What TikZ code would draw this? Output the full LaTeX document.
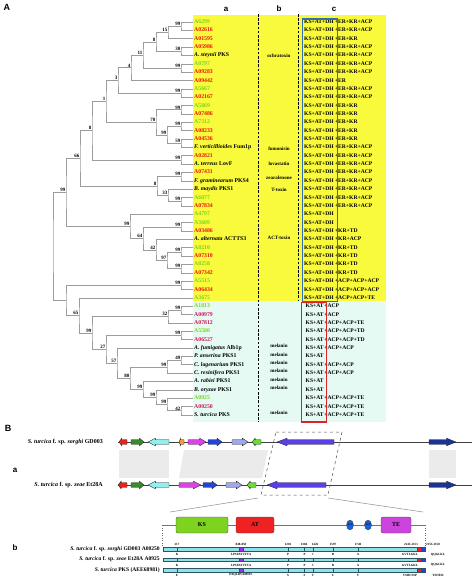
\documentclass[tikz,border=0pt]{standalone}
\usepackage{fontspec}
\setmainfont{Liberation Serif}
\setsansfont{Liberation Sans}
\usetikzlibrary{calc,shapes.geometric,positioning}

\definecolor{lgreen}{HTML}{78D41C}
\definecolor{lred}{HTML}{E8140C}
\definecolor{lcrim}{HTML}{D4145A}
\definecolor{bgyellow}{HTML}{FAFA3C}
\definecolor{bgmint}{HTML}{E4FAF3}
\definecolor{boxblue}{HTML}{2F6FB5}
\definecolor{boxred}{HTML}{D8232A}
\definecolor{treegray}{HTML}{9C9C9C}
\definecolor{gred}{HTML}{E8231E}
\definecolor{ggreen}{HTML}{348C2A}
\definecolor{gcyan}{HTML}{90F0F0}
\definecolor{gorange}{HTML}{F0A030}
\definecolor{gmag}{HTML}{E040E8}
\definecolor{gblue}{HTML}{2244DD}
\definecolor{gperi}{HTML}{A0A8EC}
\definecolor{glime}{HTML}{66DD33}
\definecolor{gpurple}{HTML}{5B3FE6}
\definecolor{gnavy}{HTML}{1A3399}
\definecolor{ksgreen}{HTML}{7ED321}
\definecolor{atred}{HTML}{EE2222}
\definecolor{temag}{HTML}{CC44DD}
\definecolor{acpblue}{HTML}{1560E0}
\definecolor{seqcyan}{HTML}{92E0E8}
\definecolor{tealdark}{HTML}{2A5560}

% one clade: name, x, upper child, lower child, bootstrap
\newcommand{\clade}[5]{%
  \coordinate (tmp) at ($(#3)!0.5!(#4)$);
  \coordinate (#1) at (#2,0 |- tmp);
  \draw[branch] (#3) -| (#1) |- (#4);
  \node[boot] at (#1) {#5};%
}
% genes: name, left end, right end, y, colour
\newcommand{\rgene}[5]{%
  \pgfmathsetmacro{\hx}{#3-min(10,0.35*(#3-#2))}
  \filldraw[genebox, fill=#5] (#2,#4-2.3) -- (\hx,#4-2.3) -- (\hx,#4-3.8) -- (#3,#4)
    -- (\hx,#4+3.8) -- (\hx,#4+2.3) -- (#2,#4+2.3) -- cycle;
  \coordinate (#1) at ({(#2+#3)/2},#4);%
}
\newcommand{\lgene}[5]{%
  \pgfmathsetmacro{\hx}{#2+min(10,0.35*(#3-#2))}
  \filldraw[genebox, fill=#5] (#3,#4-2.3) -- (\hx,#4-2.3) -- (\hx,#4-3.8) -- (#2,#4)
    -- (\hx,#4+3.8) -- (\hx,#4+2.3) -- (#3,#4+2.3) -- cycle;
  \coordinate (#1) at ({(#2+#3)/2},#4);%
}

\begin{document}
\begin{tikzpicture}[x=1pt, y=-1pt,
    branch/.style={draw=treegray, line width=0.6pt},
    boot/.style={anchor=south east, inner sep=0.5pt, font=\fontsize{5}{5}\selectfont\bfseries},
    leaf/.style={anchor=west, inner sep=0pt, text height=4.2pt, text depth=1.2pt, font=\fontsize{5.8}{6}\selectfont\bfseries},
    dom/.style={anchor=west, inner sep=0pt, text height=4.2pt, text depth=1.2pt, font=\fontsize{5.6}{6}\selectfont\bfseries},
    toxin/.style={inner sep=0pt, font=\fontsize{5}{6}\selectfont\bfseries},
    head/.style={inner sep=0pt, font=\sffamily\bfseries\fontsize{8}{8}\selectfont},
    panel/.style={inner sep=0pt, font=\sffamily\bfseries\fontsize{9}{9}\selectfont},
    colsep/.style={draw=black, line width=0.8pt, dash pattern=on 2.6pt off 1.6pt},
    genebox/.style={draw=black!85, line width=0.35pt},
    track/.style={draw=black!75, line width=0.5pt},
    synt/.style={fill=black!8},
    trk/.style={anchor=east, inner sep=0pt, font=\fontsize{6}{6}\selectfont\bfseries},
    pdom/.style={draw=black!70, rounded corners=2pt, minimum height=16, inner sep=0pt, font=\fontsize{6}{6}\selectfont\bfseries},
    acp/.style={ellipse, draw=black!70, fill=acpblue, minimum width=7, minimum height=10, inner sep=0pt, font=\fontsize{2.4}{2.5}\selectfont\bfseries},
    seqbar/.style={draw=tealdark, fill=seqcyan, line width=0.4pt},
    seqpos/.style={inner sep=0pt, font=\fontsize{3.2}{3.5}\selectfont\bfseries},
    seqname/.style={anchor=east, inner sep=0pt, font=\fontsize{5.6}{6}\selectfont\bfseries}
]
\useasboundingbox (0,0) rectangle (474,582);

% Panel A: backgrounds and column heads
\fill[bgyellow] (193,15) rectangle (386,301);
\fill[bgmint] (193,301) rectangle (386,422);
\node[panel] (pA) at (7,7) {A};
\node[head] (ha) at (226,9) {a};
\node[head] (hb) at (279,9) {b};
\node[head] (hc) at (334,9) {c};

% leaf tips
\foreach \i in {1,...,48}
  \coordinate (l\i) at (193,{22+(\i-1)*8.36});

% tree
\clade{a1}{181}{l1}{l2}{99}
\clade{a2}{168}{a1}{l3}{15}
\clade{a3}{181}{l4}{l5}{30}
\clade{a4}{156}{a2}{a3}{8}
\clade{a5}{181}{l6}{l7}{99}
\clade{a6}{143}{a4}{a5}{11}
\clade{a7}{131}{a6}{l8}{4}
\clade{a8}{181}{l9}{l10}{99}
\clade{a9}{118}{a7}{a8}{3}
\clade{a10}{181}{l11}{l12}{99}
\clade{a11}{181}{l13}{l14}{99}
\clade{a12}{181}{l15}{l16}{59}
\clade{a13}{167}{a11}{a12}{99}
\clade{a14}{156}{a10}{a13}{70}
\clade{a15}{106}{a9}{a14}{1}
\clade{a16}{181}{l17}{l18}{99}
\clade{a17}{92}{a15}{a16}{8}
\clade{a18}{181}{l19}{l20}{99}
\clade{a19}{181}{l22}{l23}{99}
\clade{a20}{168}{l21}{a19}{33}
\clade{a21}{157}{a18}{a20}{8}
\clade{a22}{80}{a17}{a21}{66}
\clade{a23}{181}{l25}{l26}{99}
\clade{a24}{181}{l28}{l29}{99}
\clade{a25}{181}{l30}{l31}{99}
\clade{a26}{167}{a24}{a25}{97}
\clade{a27}{156}{l27}{a26}{42}
\clade{a28}{143}{a23}{a27}{64}
\clade{a29}{130}{l24}{a28}{99}
\clade{a30}{66}{a22}{a29}{99}
\clade{a31}{181}{l32}{l33}{99}
\clade{b1}{181}{l35}{l36}{99}
\clade{b2}{168}{b1}{l37}{32}
\clade{b3}{181}{l38}{l39}{99}
\clade{b4}{181}{l41}{l42}{49}
\clade{b5}{167}{b4}{l43}{99}
\clade{b6}{181}{l47}{l48}{42}
\clade{b7}{167}{l46}{b6}{99}
\clade{b8}{156}{l45}{b7}{99}
\clade{b9}{143}{l44}{b8}{99}
\clade{b10}{130}{b5}{b9}{80}
\clade{b11}{117}{l40}{b10}{57}
\clade{b12}{106}{b3}{b11}{27}
\clade{b13}{92}{b2}{b12}{99}
\clade{b14}{79}{l34}{b13}{65}
\clade{b15}{66}{a31}{b14}{}
\clade{root}{53}{a30}{b15}{}

% column a: sequence names
\foreach \i/\txt/\col in {
  1/A6299/lgreen, 2/A02616/lred, 3/A01595/lred, 4/A05986/lred,
  5/{\textit{A. steynii} PKS}/black, 6/A0797/lgreen, 7/A09283/lred, 8/A09442/lred,
  9/A5667/lgreen, 10/A02167/lred, 11/A5869/lgreen, 12/A07486/lred,
  13/A7312/lgreen, 14/A08233/lred, 15/A04536/lred,
  16/{\textit{F. verticillioides} Fum1p}/black, 17/A02821/lred,
  18/{\textit{A. terreus} LovF}/black, 19/A07431/lred,
  20/{\textit{F. graminearum} PKS4}/black, 21/{\textit{B. maydis} PKS1}/black,
  22/A6077/lgreen, 23/A07834/lred, 24/A4797/lgreen, 25/A3609/lgreen,
  26/A03486/lred, 27/{\textit{A. alternata} ACTTS3}/black, 28/A8210/lgreen,
  29/A07310/lred, 30/A8258/lgreen, 31/A07342/lred, 32/A5515/lgreen,
  33/A06434/lred, 34/A3675/lgreen, 35/A1813/lgreen, 36/A00979/lcrim,
  37/A07812/lcrim, 38/A5580/lgreen, 39/A06527/lcrim,
  40/{\textit{A. fumigatus} Alb1p}/black, 41/{\textit{P. anserina} PKS1}/black,
  42/{\textit{C. lagenarium} PKS1}/black, 43/{\textit{C. resinifera} PKS1}/black,
  44/{\textit{A. rabiei} PKS1}/black, 45/{\textit{B. oryzae} PKS1}/black,
  46/A0925/lgreen, 47/A00250/lcrim, 48/{\textit{S. turcica} PKS}/black}
  \node[leaf, text=\col] (t\i) at (194,{22+(\i-1)*8.36}) {\txt};

% column b: products
\node[toxin] (x1) at (279,56) {ochratoxin};
\node[toxin] (x2) at (279,149) {fumonisin};
\node[toxin] (x3) at (279,164) {lovastatin};
\node[toxin] (x4) at (279,178) {zearalenone};
\node[toxin] (x5) at (279,190) {T-toxin};
\node[toxin] (x6) at (279,238) {ACT-toxin};
\foreach \i in {40,...,45,48}
  \node[toxin] (m\i) at (279,{20+(\i-1)*8.36}) {melanin};

% column c: domain architecture (core inside the box, rest after it)
\foreach \i/\dd in {
  1/+ER+KR+ACP, 2/+ER+KR+ACP, 3/+ER+KR, 4/+ER+KR+ACP, 5/+ER+KR+ACP,
  6/+ER+KR+ACP, 7/+ER+KR+ACP, 8/+ER, 9/+ER+KR+ACP, 10/+ER+KR+ACP,
  11/+ER+KR, 12/+ER+KR, 13/+ER+KR, 14/+ER+KR, 15/+ER+KR,
  16/+ER+KR+ACP, 17/+ER+KR+ACP, 18/+ER+KR+ACP, 19/+ER+KR+ACP,
  20/+ER+KR+ACP, 21/+ER+KR+ACP, 22/+ER+KR+ACP, 23/+ER+KR+ACP,
  24/{}, 25/{}, 26/+KR+TD, 27/+KR+ACP, 28/+KR+TD, 29/+KR+TD,
  30/+KR+TD, 31/+KR+TD, 32/+ACP+ACP+ACP, 33/+ACP+ACP+ACP, 34/+ACP+ACP+TE} {
  \node[dom] (c\i) at (304,{22+(\i-1)*8.36}) {KS+AT+DH};
  \node[dom] (d\i) at (334.8,{22+(\i-1)*8.36}) {\dd};
}
\foreach \i/\dd in {
  35/+ACP, 36/+ACP, 37/+ACP+ACP+TE, 38/+ACP+ACP+TD, 39/+ACP+ACP+TD,
  40/+ACP+ACP, 41/{}, 42/+ACP+ACP, 43/+ACP+ACP, 44/{}, 45/{},
  46/+ACP+ACP+TE, 47/+ACP+ACP+TE, 48/+ACP+ACP+TE} {
  \node[dom] (c\i) at (305.5,{22+(\i-1)*8.36}) {KS+AT};
  \node[dom] (d\i) at (324.2,{22+(\i-1)*8.36}) {\dd};
}

% separators and boxes
\draw[colsep] (258,14) -- (258,422);
\draw[colsep] (298,14) -- (298,301);
\draw[boxblue, line width=1.3pt] (302.5,19) rectangle (337.5,301.5);
\draw[boxred, line width=1.3pt] (301.5,302.5) rectangle (326.5,422);

% Panel B
\node[panel] (pB) at (8,428) {B};
\node[head] (sa) at (15,470) {a};
\node[head] (sb) at (15,548) {b};

% syntenic shading
\fill[synt] (119,450) rectangle (169,478);
\fill[synt] (184,450) -- (268,450) -- (262,478) -- (179,478) -- cycle;
\fill[synt] (429,450) rectangle (456,478);

% zoomed region
\draw[dashed, black!70, line width=0.5pt] (276,432) -- (342,432) -- (328,495) -- (261,495) -- cycle;

% tracks
\node[trk] (trkA) at (103,442) {\textit{S. turcica} f. sp. \textit{sorghi} GD003};
\node[trk] (trkB) at (103,485) {\textit{S. turcica} f. sp. \textit{zeae} Et28A};
\draw[track] (118,442) -- (472,442);
\draw[track] (118,485) -- (472,485);

\lgene{g1}{119}{127}{442}{gred}
\rgene{g2}{131}{144}{442}{ggreen}
\lgene{g3}{148}{169}{442}{gcyan}
\lgene{g4}{179}{184}{442}{gorange}
\rgene{g5}{188}{206}{442}{gmag}
\rgene{g6}{208}{222}{442}{gblue}
\rgene{g7}{232}{248}{442}{gperi}
\lgene{g8}{252}{261}{442}{glime}
\lgene{g9}{277}{334}{442}{gpurple}
\rgene{g10}{429}{456}{442}{gnavy}

\lgene{h1}{118}{127}{485}{gred}
\rgene{h2}{131}{144}{485}{ggreen}
\lgene{h3}{148}{169}{485}{gcyan}
\rgene{h5}{179}{201}{485}{gmag}
\rgene{h6}{203}{217}{485}{gblue}
\rgene{h7}{226}{242}{485}{gperi}
\lgene{h8}{247}{256}{485}{glime}
\lgene{h9}{267}{326}{485}{gpurple}
\rgene{h10}{429}{456}{485}{gnavy}

% domain map of the PKS
\coordinate (zl) at (258,498);
\coordinate (zr) at (328,498);
\coordinate (dl) at (162,525);
\coordinate (dr) at (425,525);
\draw[black!45, line width=0.5pt] (zl) -- (170,512);
\draw[black!45, line width=0.5pt] (zr) -- (423,512);
\draw[black!55, line width=0.5pt] (dl) -- (dr);
\node[pdom, fill=ksgreen, minimum width=52] (ksdom) at (202,525) {KS};
\node[pdom, fill=atred, minimum width=38] (atdom) at (255,525) {AT};
\node[acp] (acp1) at (350,525) {ACP};
\node[acp] (acp2) at (368,525) {ACP};
\node[pdom, fill=temag, minimum width=30] (tedom) at (396,525) {TE};
\draw[dotted, black!60, line width=0.5pt] (dl) -- (162,547);
\draw[dotted, black!60, line width=0.5pt] (dr) -- (425,547);

% aligned sequences
\foreach \by in {549,559.5,570} {
  \draw[seqbar] (163,\by-1.8) rectangle (425,\by+1.8);
  \foreach \tx in {177,288,304.5,313,333,358}
    \draw[tealdark, line width=0.5pt] (\tx,\by-1.8) -- (\tx,\by+1.8);
  \fill[gmag!70!blue, draw=tealdark, line width=0.3pt] (239.5,\by-1.8) rectangle (243,\by+1.8);
  \fill[gred, draw=tealdark, line width=0.3pt] (417.5,\by-1.8) rectangle (421,\by+1.8);
  \fill[gblue, draw=tealdark, line width=0.3pt] (421,\by-1.8) rectangle (425,\by+1.8);
}
\node[seqname] (s1) at (160,549) {\textit{S. turcica} f. sp. \textit{sorghi} GD003 A00250};
\node[seqname] (s2) at (160,559.5) {\textit{S. turcica} f. sp. \textit{zeae} Et28A A0925};
\node[seqname] (s3) at (160,570) {\textit{S. turcica} PKS (AEE68981)};

\foreach \px/\pt in {177/217, 241/848-858, 288/1201, 304/1304, 315/1426,
    333/1597, 358/1740, 411/2145-2151, 433/2153-2158}
  \node[seqpos] at (\px,544) {\pt};

\foreach \by in {554.5,565} {
  \foreach \px/\rr in {177/K, 241/LPSFAYTFTA, 288/P, 304.5/P, 313/I, 333/R,
      358/A, 410/GVTLGKL, 438/QQGLKL}
    \node[seqpos] at (\px,\by) {\rr};
}
\foreach \px/\rr in {177/E, 241/PAQLRVRIHPL, 288/S, 304.5/S, 313/T, 333/C,
    358/V, 410/VSHCSSP, 438/YDTER}
  \node[seqpos] at (\px,575) {\rr};

\end{tikzpicture}
\end{document}
